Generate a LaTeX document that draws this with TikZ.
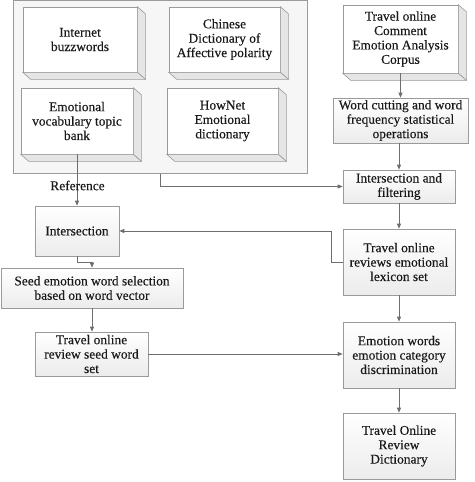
\documentclass[tikz,border=0pt]{standalone}
\usepackage{fontspec}
\setmainfont{Liberation Serif}
\newfontfamily\diagfont{Liberation Serif}[FakeBold=0.25]
\usetikzlibrary{arrows.meta,calc,shadows,positioning}
\definecolor{linec}{HTML}{6E6E6E}
\definecolor{edgec}{HTML}{9A9A9A}
\newcommand\tdbox[1]{%
  \filldraw[sideface] (#1.north east) -- ++(8,7) -- ($(#1.south east)+(8,7)$) -- (#1.south east) -- cycle;
  \filldraw[sideface] (#1.south west) -- ++(8,7) -- ($(#1.south east)+(8,7)$) -- (#1.south east) -- cycle;}
\tikzset{
  txt/.style={font=\diagfont\fontsize{13.4}{14.4}\selectfont, align=center, text=black!90, inner sep=1pt},
  frontbox/.style={txt, draw=edgec, fill=white, line width=0.6pt},
  sideface/.style={draw=edgec, fill=gray!20, line width=0.6pt},
  flatbox/.style={txt, draw=edgec, line width=0.6pt, top color=white, bottom color=gray!15,
     drop shadow={shadow xshift=1.2pt, shadow yshift=-1.2pt, fill=gray!45, opacity=0.8}},
  container/.style={draw=edgec, fill=gray!7, line width=0.6pt},
  arr/.style={draw=linec, line width=0.8pt, -{Triangle[length=5pt,width=4pt]}},
  ln/.style={draw=linec, line width=0.8pt}
}
\begin{document}
\begin{tikzpicture}[x=1pt,y=-1pt]
\useasboundingbox (0,0) rectangle (474,482);
% container
\node[container, minimum width=294pt, minimum height=173pt] (cont) at (160,87) {};
% 3D boxes
\node[frontbox, minimum width=114pt, minimum height=65pt] (b1) at (80,39.5) {Internet\\buzzwords};
\node[frontbox, minimum width=111pt, minimum height=65pt] (b2) at (224.5,39.5) {Chinese\\Dictionary of\\Affective polarity};
\node[frontbox, minimum width=112pt, minimum height=66pt] (b3) at (77,121) {Emotional\\vocabulary topic\\bank};
\node[frontbox, minimum width=111pt, minimum height=66pt] (b4) at (222.5,121) {HowNet\\Emotional\\dictionary};
\node[frontbox, minimum width=115pt, minimum height=68pt] (c1) at (400.5,39) {Travel online\\Comment\\Emotion Analysis\\Corpus};
\tdbox{b1}\tdbox{b2}\tdbox{b3}\tdbox{b4}\tdbox{c1}
% flat boxes
\node[flatbox, minimum width=135pt, minimum height=45pt] (c2) at (400.5,120.5) {Word cutting and word\\frequency statistical\\operations};
\node[flatbox, minimum width=112pt, minimum height=33pt] (c3) at (399,186.5) {Intersection and\\filtering};
\node[flatbox, minimum width=112pt, minimum height=66pt] (c4) at (399,262) {Travel online\\reviews emotional\\lexicon set};
\node[flatbox, minimum width=112pt, minimum height=66pt] (c5) at (399,355) {Emotion words\\emotion category\\discrimination};
\node[flatbox, minimum width=112pt, minimum height=66pt] (c6) at (399,446) {Travel Online\\Review\\Dictionary};
\node[flatbox, minimum width=84pt, minimum height=50pt] (l1) at (77,231) {Intersection};
\node[flatbox, minimum width=182pt, minimum height=40pt] (l2) at (92,288) {Seed emotion word selection\\based on word vector};
\node[flatbox, minimum width=113pt, minimum height=44pt] (l3) at (91.5,354) {Travel online\\review seed word\\set};
% connectors
\draw[arr] (b3.south) -- (l1.north);
\node[txt] (ref) at (77.5,185.5) {Reference};
\draw[arr] (cont.south) |- (c3.west);
\draw[arr] (c1.south) -- (c1.south |- c2.north);
\draw[arr] (c3.north |- c2.south) -- (c3.north);
\draw[arr] (c3.south) -- (c4.north);
\draw[arr] (c4.south) -- (c5.north);
\draw[arr] (c5.south) -- (c6.north);
\draw[arr] (c4.west) -- ++(-11,0) |- (l1.east);
\draw[arr] (l1.south) -- ++(0,6) -| (l2.north);
\draw[arr] (l2.south) -- (l2.south |- l3.north);
\draw[arr] (l3.east) -- (l3.east -| c5.west);
\end{tikzpicture}
\end{document}
